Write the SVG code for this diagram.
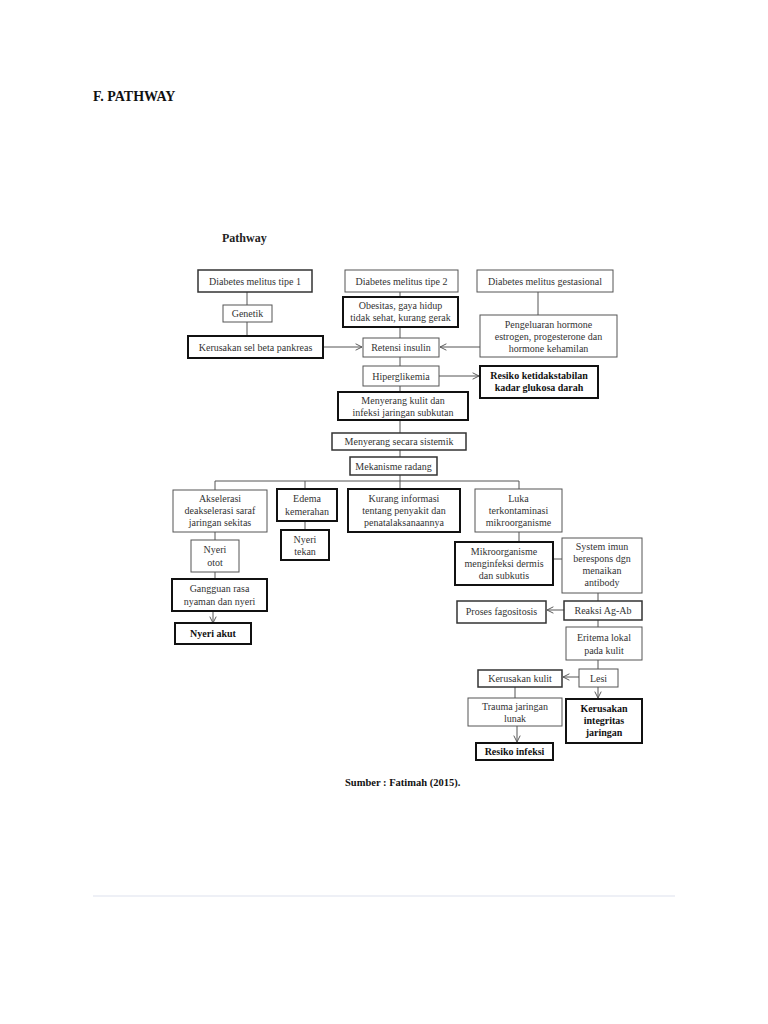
<svg xmlns="http://www.w3.org/2000/svg" width="768" height="1024" viewBox="0 0 768 1024">
<style>
.b{fill:#fff;stroke:#555;stroke-width:1}
.k{fill:#fff;stroke:#111;stroke-width:2}
.m{fill:#fff;stroke:#333;stroke-width:1.5}
text{font-family:"Liberation Serif","Times New Roman",serif;font-size:10px;fill:#333;text-anchor:middle}
.bd{font-weight:bold;fill:#111}
.c line,.c polyline{stroke:#555;stroke-width:1;fill:none}
</style>
<defs>
<marker id="ah" viewBox="0 0 10 10" refX="9" refY="5" markerWidth="8" markerHeight="8" markerUnits="userSpaceOnUse" orient="auto">
<polyline points="1,1 9,5 1,9" fill="none" stroke="#555" stroke-width="1.2"/>
</marker>
</defs>
<rect width="768" height="1024" fill="#fff"/>
<text x="93" y="101" style="font-size:14px;font-weight:bold;fill:#111;text-anchor:start">F. PATHWAY</text>
<text x="222" y="242" style="font-size:12px;font-weight:bold;fill:#222;text-anchor:start">Pathway</text>

<g class="c" id="connectors">
<line x1="247" y1="292" x2="247" y2="305"/>
<line x1="247" y1="322" x2="247" y2="336"/>
<line x1="323" y1="347" x2="362" y2="347" marker-end="url(#ah)"/>
<line x1="400" y1="292" x2="400" y2="297"/>
<line x1="400" y1="327" x2="400" y2="338"/>
<line x1="400" y1="357" x2="400" y2="366"/>
<line x1="400" y1="386" x2="400" y2="392"/>
<line x1="400" y1="420" x2="400" y2="433"/>
<line x1="400" y1="450" x2="400" y2="457"/>
<line x1="400" y1="475" x2="400" y2="489"/>
<line x1="538" y1="292" x2="538" y2="315"/>
<line x1="480" y1="347" x2="440" y2="347" marker-end="url(#ah)"/>
<line x1="439" y1="376" x2="479" y2="376" marker-end="url(#ah)"/>
<line x1="215" y1="481" x2="519" y2="481"/>
<line x1="215" y1="481" x2="215" y2="490"/>
<line x1="305" y1="481" x2="305" y2="489"/>
<line x1="519" y1="481" x2="519" y2="489"/>
<line x1="215" y1="532" x2="215" y2="540"/>
<line x1="215" y1="572" x2="215" y2="579"/>
<line x1="213" y1="611" x2="213" y2="623" marker-end="url(#ah)"/>
<line x1="305" y1="521" x2="305" y2="530"/>
<line x1="519" y1="532" x2="519" y2="542"/>
<line x1="553" y1="559" x2="562" y2="559"/>
<line x1="598" y1="593" x2="598" y2="601"/>
<line x1="564" y1="610" x2="547" y2="610" marker-end="url(#ah)"/>
<line x1="598" y1="620" x2="598" y2="627"/>
<line x1="598" y1="660" x2="598" y2="669"/>
<line x1="579" y1="677" x2="563" y2="677" marker-end="url(#ah)"/>
<line x1="598" y1="687" x2="598" y2="698" marker-end="url(#ah)"/>
<line x1="515" y1="687" x2="515" y2="698"/>
<line x1="517" y1="726" x2="517" y2="742" marker-end="url(#ah)"/>
</g>

<g id="dm1"><rect class="m" x="198" y="270" width="114" height="22"/><text x="255" y="285">Diabetes melitus tipe 1</text></g>
<g id="genetik"><rect class="b" x="223" y="305" width="49" height="17"/><text x="247.5" y="317">Genetik</text></g>
<g id="kerusakan-sel"><rect class="k" x="188" y="336" width="135" height="22"/><text x="255.5" y="351">Kerusakan sel beta pankreas</text></g>
<g id="dm2"><rect class="b" x="345" y="270" width="113" height="22"/><text x="401.5" y="285">Diabetes melitus tipe 2</text></g>
<g id="obesitas"><rect class="k" x="343" y="297" width="115" height="30"/><text x="400.5" y="309">Obesitas, gaya hidup</text><text x="400.5" y="321">tidak sehat, kurang gerak</text></g>
<g id="retensi"><rect class="b" x="363" y="338" width="76" height="19"/><text x="401" y="351">Retensi insulin</text></g>
<g id="dmg"><rect class="b" x="477" y="270" width="136" height="22"/><text x="545" y="285">Diabetes melitus gestasional</text></g>
<g id="pengeluaran"><rect class="b" x="480" y="315" width="137" height="42"/><text x="548.5" y="328">Pengeluaran hormone</text><text x="548.5" y="340">estrogen, progesterone dan</text><text x="548.5" y="352">hormone kehamilan</text></g>
<g id="hiperglikemia"><rect class="b" x="363" y="366" width="76" height="20"/><text x="401" y="380">Hiperglikemia</text></g>
<g id="resiko-glukosa"><rect class="k" x="480" y="366" width="118" height="32"/><text class="bd" x="539" y="379">Resiko ketidakstabilan</text><text class="bd" x="539" y="391">kadar glukosa darah</text></g>
<g id="menyerang-kulit"><rect class="k" x="338" y="392" width="130" height="28"/><text x="403" y="404">Menyerang kulit dan</text><text x="403" y="416">infeksi jaringan subkutan</text></g>
<g id="sistemik"><rect class="m" x="332" y="433" width="134" height="17"/><text x="399" y="445">Menyerang secara sistemik</text></g>
<g id="radang"><rect class="m" x="350" y="457" width="87" height="18"/><text x="393.5" y="470">Mekanisme radang</text></g>
<g id="akselerasi"><rect class="b" x="173" y="490" width="94" height="42"/><text x="220" y="502">Akselerasi</text><text x="220" y="514">deakselerasi saraf</text><text x="220" y="526">jaringan sekitas</text></g>
<g id="edema"><rect class="k" x="277" y="489" width="60" height="32"/><text x="307" y="502">Edema</text><text x="307" y="515">kemerahan</text></g>
<g id="kurang-info"><rect class="k" x="348" y="489" width="112" height="43"/><text x="404" y="502">Kurang informasi</text><text x="404" y="514">tentang penyakit dan</text><text x="404" y="526">penatalaksanaannya</text></g>
<g id="luka"><rect class="b" x="475" y="489" width="87" height="43"/><text x="518.5" y="502">Luka</text><text x="518.5" y="514">terkontaminasi</text><text x="518.5" y="526">mikroorganisme</text></g>
<g id="nyeri-otot"><rect class="b" x="191" y="540" width="48" height="32"/><text x="215" y="553">Nyeri</text><text x="215" y="566">otot</text></g>
<g id="nyeri-tekan"><rect class="k" x="281" y="530" width="48" height="30"/><text x="305" y="543">Nyeri</text><text x="305" y="555">tekan</text></g>
<g id="gangguan"><rect class="k" x="172" y="579" width="95" height="32"/><text x="219.5" y="592">Gangguan rasa</text><text x="219.5" y="605">nyaman dan nyeri</text></g>
<g id="nyeri-akut"><rect class="k" x="175" y="623" width="76" height="21"/><text class="bd" x="213" y="637">Nyeri akut</text></g>
<g id="mikro"><rect class="k" x="455" y="542" width="98" height="43"/><text x="504" y="555">Mikroorganisme</text><text x="504" y="567">menginfeksi dermis</text><text x="504" y="579">dan subkutis</text></g>
<g id="imun"><rect class="b" x="562" y="538" width="80" height="55"/><text x="602" y="550">System imun</text><text x="602" y="562">berespons dgn</text><text x="602" y="574">menaikan</text><text x="602" y="586">antibody</text></g>
<g id="reaksi"><rect class="m" x="564" y="601" width="78" height="19"/><text x="603" y="614">Reaksi Ag-Ab</text></g>
<g id="fagositosis"><rect class="m" x="457" y="601" width="89" height="22"/><text x="501.5" y="615">Proses fagositosis</text></g>
<g id="eritema"><rect class="b" x="566" y="627" width="76" height="33"/><text x="604" y="641">Eritema lokal</text><text x="604" y="654">pada kulit</text></g>
<g id="lesi"><rect class="b" x="579" y="669" width="39" height="18"/><text x="598.5" y="682">Lesi</text></g>
<g id="kerusakan-kulit"><rect class="m" x="478" y="670" width="84" height="17"/><text x="520" y="682">Kerusakan kulit</text></g>
<g id="integritas"><rect class="k" x="566" y="699" width="76" height="44"/><text class="bd" x="604" y="712">Kerusakan</text><text class="bd" x="604" y="724">integritas</text><text class="bd" x="604" y="736">jaringan</text></g>
<g id="trauma"><rect class="b" x="468" y="698" width="94" height="28"/><text x="515" y="710">Trauma jaringan</text><text x="515" y="722">lunak</text></g>
<g id="resiko-infeksi"><rect class="k" x="476" y="743" width="77" height="17"/><text class="bd" x="514.5" y="755">Resiko infeksi</text></g>

<text x="345" y="786" style="font-size:10.5px;font-weight:bold;fill:#111;text-anchor:start">Sumber : Fatimah (2015).</text>
<line x1="93" y1="896" x2="675" y2="896" stroke="#eef0f6" stroke-width="2"/>
</svg>
